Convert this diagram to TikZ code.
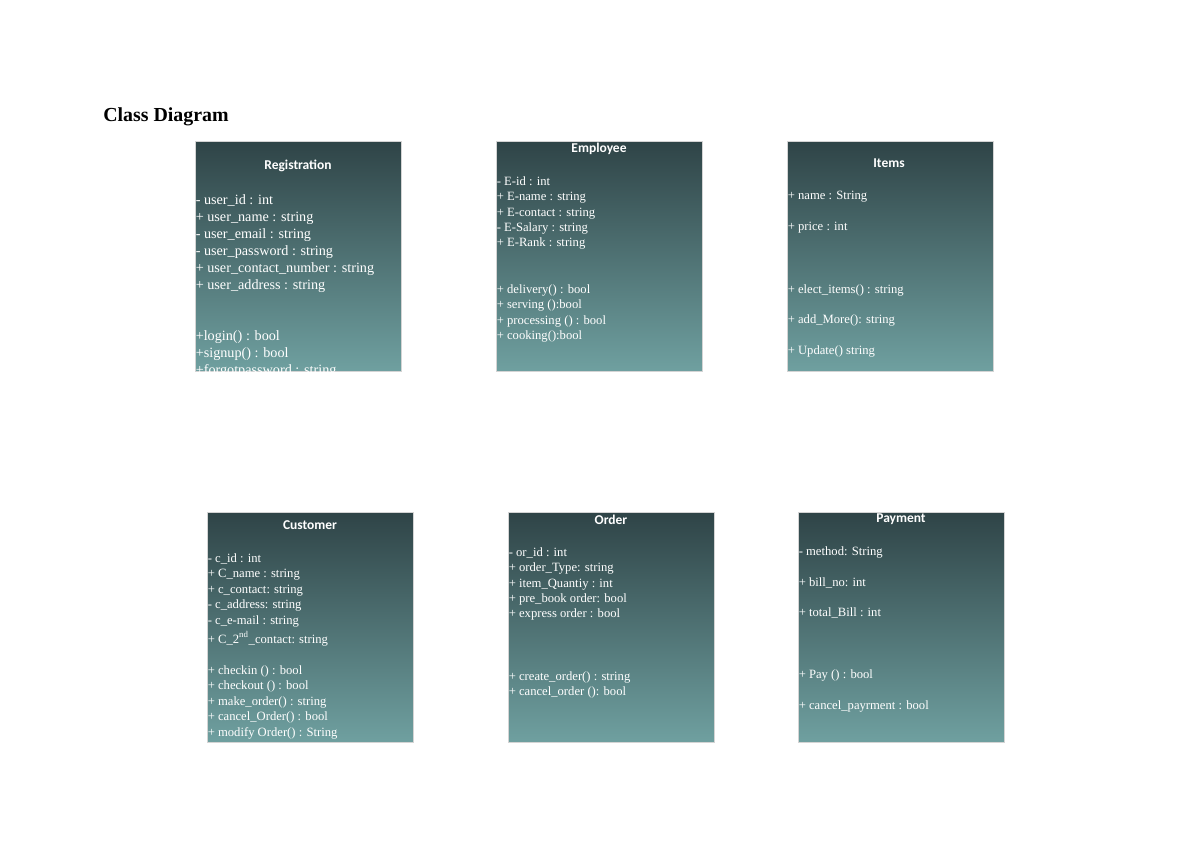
\documentclass[tikz,border=0pt]{standalone}
\usepackage{fontspec}
\setmainfont{Liberation Serif}
\newfontfamily\headfont{Carlito}
\definecolor{boxtop}{RGB}{47,68,71}
\definecolor{boxbot}{RGB}{111,160,160}
\definecolor{boxline}{RGB}{212,212,212}

\begin{document}
\begin{tikzpicture}[x=0.2475mm,y=-0.2475mm,
  classbox/.style={rectangle,anchor=north west,inner sep=0pt,minimum width=51mm,minimum height=56.9mm,top color=boxtop,bottom color=boxbot,draw=boxline,line width=0.5pt},
  classname/.style={anchor=base,inner sep=0pt,text=white,font=\headfont\bfseries\fontsize{9.5}{11}\selectfont},
  members/.style n args={2}{anchor=north west,align=left,inner sep=0pt,text=white,font=\fontsize{#1}{#2}\selectfont,execute at begin node={\rule{0pt}{7pt}}}]
\useasboundingbox (0,0) rectangle (1200,849);
\node[anchor=base west,inner sep=0pt,font=\bfseries\fontsize{14}{16}\selectfont] (head) at (103,121) {Class Diagram};
% top row
\node[classbox] (reg) at (195,141) {};
\node[classbox] (emp) at (496,141) {};
\node[classbox] (itm) at (787,141) {};
% bottom row
\node[classbox] (cus) at (207,512) {};
\node[classbox] (ord) at (508,512) {};
\node[classbox] (pay) at (798,512) {};
% Registration
\node[classname] (regT) at (298,169) {Registration};
\node[members={10}{12}] (regA) at (195.5,194) {- user\_id : int\\+ user\_name : string\\- user\_email : string\\- user\_password : string\\+ user\_contact\_number : string\\+ user\_address : string};
\begin{scope}
\clip (195,141) rectangle (402,371); % last method cut off by the box
\node[members={10}{12}] (regM) at (195.5,330) {+login() : bool\\+signup() : bool\\+forgotpassword : string};
\end{scope}
% Employee
\node[classname] (empT) at (599,152) {Employee};
\node[members={8.9}{10.9}] (empA) at (496.5,176) {- E-id : int\\+ E-name : string\\+ E-contact : string\\- E-Salary : string\\+ E-Rank : string};
\node[members={8.9}{10.9}] (empM) at (496.5,284) {+ delivery() : bool\\+ serving ():bool\\+ processing () : bool\\+ cooking():bool};
% Items
\node[classname] (itmT) at (889,167) {Items};
\node[members={8.9}{22}] (itmA) at (787.5,191) {+ name : String\\+ price : int};
\node[members={8.9}{21.5}] (itmM) at (787.5,284) {+ elect\_items() : string\\+ add\_More(): string\\+ Update() string};
% Customer
\node[classname] (cusT) at (310,529) {Customer};
\node[members={8.9}{11}] (cusA) at (207.5,553) {- c\_id : int\\+ C\_name : string\\+ c\_contact: string\\- c\_address: string\\- c\_e-mail : string\\[2pt]+ C\_2\textsuperscript{nd}\_contact: string};
\node[members={8.9}{11}] (cusM) at (207.5,665) {+ checkin () : bool\\+ checkout () : bool\\+ make\_order() : string\\+ cancel\_Order() : bool\\+ modify Order() : String};
% Order
\node[classname] (ordT) at (611,524) {Order};
\node[members={8.9}{10.9}] (ordA) at (508.5,547) {- or\_id : int\\+ order\_Type: string\\+ item\_Quantiy : int\\+ pre\_book order: bool\\+ express order : bool};
\node[members={8.9}{10.9}] (ordM) at (508.5,671) {+ create\_order() : string\\+ cancel\_order (): bool};
% Payment
\node[classname] (payT) at (901,522) {Payment};
\node[members={8.9}{21.8}] (payA) at (798.5,546) {- method: String\\+ bill\_no: int\\+ total\_Bill : int};
\node[members={8.9}{21.8}] (payM) at (798.5,669) {+ Pay () : bool\\+ cancel\_payrment : bool};
\end{tikzpicture}
\end{document}
